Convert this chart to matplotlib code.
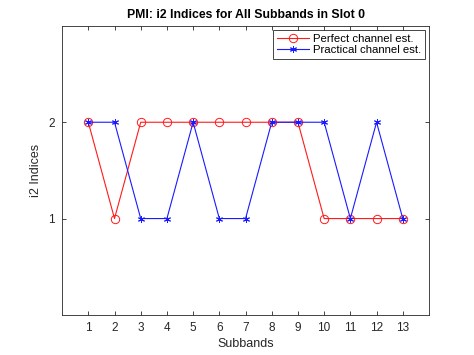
import matplotlib.pyplot as plt
import numpy as np

plt.rcParams['font.family'] = ['Liberation Sans', 'DejaVu Sans']

# data
subbands = np.arange(1, 14)
i2_perfect = [2, 1, 2, 2, 2, 2, 2, 2, 2, 1, 1, 1, 1]
i2_practical = [2, 2, 1, 1, 2, 1, 1, 2, 2, 2, 1, 2, 1]

fig = plt.figure(figsize=(4.74, 3.55), dpi=100)
ax = fig.add_axes([0.131, 0.113, 0.774, 0.814])

ax.plot(subbands, i2_perfect, '-o', color='#ff1a1a', lw=0.8, markersize=6,
        mfc='none', mew=0.7, label='Perfect channel est.')
ax.plot(subbands, i2_practical, '-', color='#1a1aff', marker=(6, 2, 0), lw=0.8,
        markersize=5, mew=0.7, label='Practical channel est.')

ax.set_xlim(0, 14)
ax.set_ylim(0, 3)
ax.set_xticks(subbands)
ax.set_yticks([1, 2])
ax.tick_params(direction='in', top=True, right=True, labelsize=8.5, length=3,
               width=0.6, colors='#262626', pad=5)
for s in ax.spines.values():
    s.set_linewidth(0.6)
    s.set_color('#262626')

ax.set_title('PMI: i2 Indices for All Subbands in Slot 0', fontsize=8.8,
             fontweight='bold', pad=6)
ax.set_xlabel('Subbands', fontsize=9, labelpad=3, color='#262626')
ax.set_ylabel('i2 Indices', fontsize=9, labelpad=5, color='#262626')

leg = ax.legend(loc='upper right', fontsize=8.2, fancybox=False,
                edgecolor='#262626', framealpha=1, borderpad=0.35,
                labelspacing=0.12, handlelength=2.8, handletextpad=0.3,
                borderaxespad=0.35)
leg.get_frame().set_linewidth(0.6)

fig.savefig('out.png', dpi=100)
